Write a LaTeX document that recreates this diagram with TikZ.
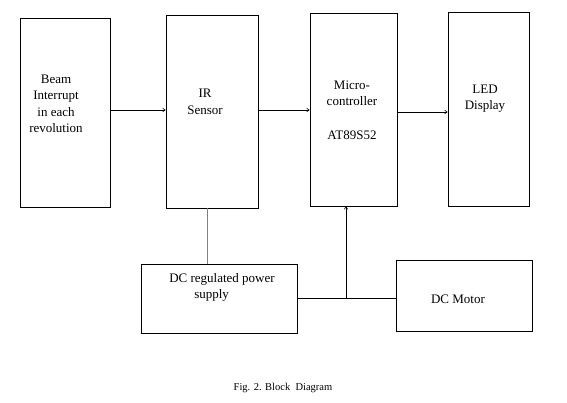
\documentclass[tikz,border=0pt]{standalone}
\usepackage{fontspec}
\setmainfont{Liberation Serif}
\usetikzlibrary{positioning}
\usetikzlibrary{arrows.meta}

\begin{document}
\begin{tikzpicture}[x=1pt,y=-1pt,
		blk/.style={draw,semithick,minimum width=#1},
		txt/.style={align=center,font=\fontsize{13}{16.5}\selectfont},
		link/.style={semithick,-{Straight Barb[length=2.5pt,width=3.5pt]}}]
	\useasboundingbox (0,0) rectangle (567,403);
	% blocks
	\node[blk=90pt,minimum height=189pt] (beam) at (65,112.5) {};
	\node[blk=92pt,minimum height=193pt] (ir) at (212,111.5) {};
	\node[blk=87pt,minimum height=193pt] (mcu) at (353.5,109.5) {};
	\node[blk=81pt,minimum height=194pt] (led) at (488.5,109) {};
	\node[blk=156pt,minimum height=69pt] (psu) at (219,298.5) {};
	\node[blk=136pt,minimum height=71pt] (motor) at (464,295.5) {};
	% texts
	\node[txt] (beamtxt) at (56,104) {Beam\\Interrupt\\in each\\revolution};
	\node[txt] (irtxt) at (205,102) {IR\\Sensor};
	\node[txt] (mcutxt) at (352,93.5) {Micro-\\controller};
	\node[txt] (mcuname) at (352,135) {AT89S52};
	\node[txt] (ledtxt) at (485,98.5) {LED\\Display};
	\node[txt,align=left] (psutxt) at (222,287.5) {DC regulated power\\\hspace*{25pt}supply};
	\node[txt] (motortxt) at (458,299) {DC Motor};
	\node[font=\fontsize{10.5}{12}\selectfont] (caption) at (283,388) {Fig. 2. Block\ \ Diagram};
	% connectors
	\coordinate (tap) at (346,298);
	\draw[link] (beam.east |- 0,110) -- (ir.west |- 0,110);
	\draw[link] (ir.east |- 0,110) -- (mcu.west |- 0,110);
	\draw[link] (mcu.east |- 0,112) -- (led.west |- 0,112);
	\draw[thin,gray] (ir.south -| 207,0) -- (psu.north -| 207,0);
	\draw[semithick] (psu.east |- tap) -- (motor.west |- tap);
	\draw[link] (tap) -- (tap |- mcu.south);
\end{tikzpicture}
\end{document}
